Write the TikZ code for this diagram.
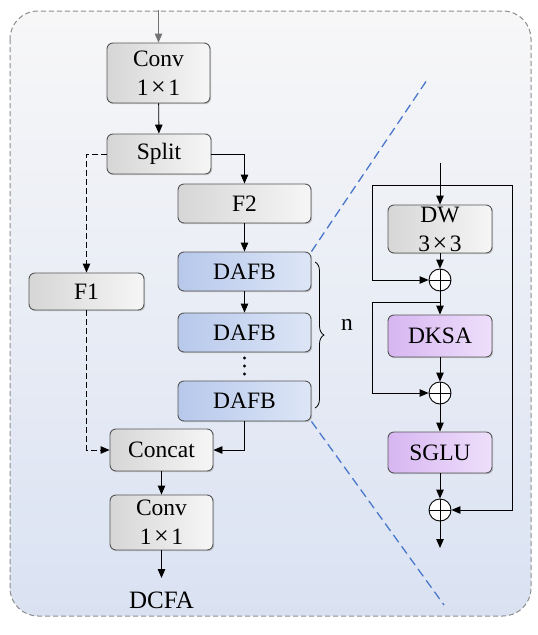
\documentclass[tikz,border=0pt]{standalone}
\usepackage{fontspec}
\setmainfont{Liberation Serif}
\usetikzlibrary{arrows.meta,shadows,decorations.pathreplacing}
\definecolor{bordc}{HTML}{555555}
\definecolor{framec}{HTML}{8C8C8C}
\definecolor{bgtop}{HTML}{F7F7F8}
\definecolor{bgbot}{HTML}{DAE2F2}
\definecolor{grayL}{HTML}{D6D6D6}
\definecolor{grayR}{HTML}{F6F6F6}
\definecolor{blueL}{HTML}{B7C8EB}
\definecolor{blueR}{HTML}{DDE6F7}
\definecolor{purL}{HTML}{D7B6F1}
\definecolor{purR}{HTML}{EEDFFB}
\definecolor{zoomblue}{HTML}{4A78CC}
\newcommand{\bx}{\kern2.5pt{\fontsize{26}{26}\selectfont ×}\kern2.5pt}
\begin{document}
\begin{tikzpicture}[x=1pt,y=-1pt,
  font=\fontsize{23.5}{29}\selectfont,
  box/.style={draw=bordc, line width=0.9pt, rounded corners=6pt,
    inner sep=0pt, align=center,
    drop shadow={opacity=0.35, shadow xshift=1.2pt, shadow yshift=-1.2pt}},
  graybox/.style={box, left color=grayL, right color=grayR},
  bluebox/.style={box, left color=blueL, right color=blueR},
  purbox/.style={box, left color=purL, right color=purR},
  plusnode/.style={circle, draw=black, line width=0.9pt, fill=white,
    minimum size=22pt, inner sep=0pt,
    path picture={\draw[line width=0.9pt]
      (path picture bounding box.north) -- (path picture bounding box.south)
      (path picture bounding box.west) -- (path picture bounding box.east);}},
  arr/.style={draw=black, line width=0.9pt, -{Triangle[length=9pt,width=7.5pt]}},
  dsh/.style={dash pattern=on 6pt off 3pt},
  blued/.style={draw=zoomblue, line width=1.3pt, dash pattern=on 9pt off 5pt}
]
\useasboundingbox (0,0) rectangle (538,635);
% frame
\draw[framec, line width=1pt, dash pattern=on 5pt off 3pt, rounded corners=28pt,
  top color=bgtop, bottom color=bgbot] (10,11) rectangle (531,616);

% left column
\node[graybox, minimum width=103pt, minimum height=60pt] (conv1) at (158.5,73) {Conv\\1\bx1};
\node[graybox, minimum width=104pt, minimum height=40pt] (split) at (159,154) {Split};
\node[graybox, minimum width=133pt, minimum height=39pt] (f2) at (244.5,203.5) {F2};
\node[bluebox, minimum width=133pt, minimum height=39pt] (dafb1) at (244.5,271.5) {DAFB};
\node[bluebox, minimum width=133pt, minimum height=39pt] (dafb2) at (244.5,332.5) {DAFB};
\node[bluebox, minimum width=133pt, minimum height=40pt] (dafb3) at (244.5,401) {DAFB};
\node[graybox, minimum width=115pt, minimum height=37pt] (f1) at (86.5,291.5) {F1};
\node[graybox, minimum width=103pt, minimum height=42pt] (concat) at (161.5,450) {Concat};
\node[graybox, minimum width=103pt, minimum height=55pt] (conv2) at (161.5,522.5) {Conv\\1\bx1};
\node[font=\fontsize{25}{28}\selectfont, anchor=base] (dcfa) at (161.5,608) {DCFA};

\coordinate (in1) at (158.5,10);
\coordinate (out1) at (161.5,578);
\draw[arr, draw=black!55] (in1) -- (conv1);
\draw[arr] (conv1) -- (split);
\draw[arr] (split.east) -| (f2.north);
\draw[arr, dsh] (split.west) -| (f1.north);
\draw[arr] (f2) -- (dafb1);
\draw[arr] (dafb1) -- (dafb2);
\draw[arr, dsh] (f1.south) |- (concat.west);
\draw[arr] (dafb3.south) |- (concat.east);
\draw[arr] (concat) -- (conv2);
\draw[arr] (conv2) -- (out1);

% dots
\fill (244.5,358) circle (1.6pt) (244.5,366) circle (1.6pt) (244.5,374) circle (1.6pt);

% brace
\coordinate (bt) at (315,262);
\coordinate (bb) at (315,408);
\draw[line width=0.8pt, decorate, decoration={brace, amplitude=9pt}] (bt) -- (bb);
\node[anchor=base west, inner sep=0pt] (nlab) at (341,330) {n};

% zoom lines
\coordinate (zt) at (427,80);
\coordinate (zb) at (444,605);
\draw[blued] (dafb1.north east) -- (zt);
\draw[blued] (dafb3.south east) -- (zb);

% right panel
\node[graybox, minimum width=104pt, minimum height=48pt] (dw) at (440,229) {DW\\3\bx3};
\node[plusnode] (p1) at (440,280) {};
\node[purbox, minimum width=104pt, minimum height=42pt] (dksa) at (440,336) {DKSA};
\node[plusnode] (p2) at (440,393) {};
\node[purbox, minimum width=104pt, minimum height=41pt] (sglu) at (440,452.5) {SGLU};
\node[plusnode] (p3) at (440,510) {};

\coordinate (in2) at (440,163);
\coordinate (out2) at (440,548);
\coordinate (s1) at (440,185);
\coordinate (s2) at (440,302);
\draw[arr] (in2) -- (dw);
\draw[arr] (dw) -- (p1);
\draw[arr] (p1) -- (dksa);
\draw[arr] (dksa) -- (p2);
\draw[arr] (p2) -- (sglu);
\draw[arr] (sglu) -- (p3);
\draw[arr] (p3) -- (out2);
\draw[arr] (s1) -- ++(-68,0) |- (p1.west);
\draw[arr] (s1) -- ++(72,0) |- (p3.east);
\draw[arr] (s2) -- ++(-68,0) |- (p2.west);
\end{tikzpicture}
\end{document}
